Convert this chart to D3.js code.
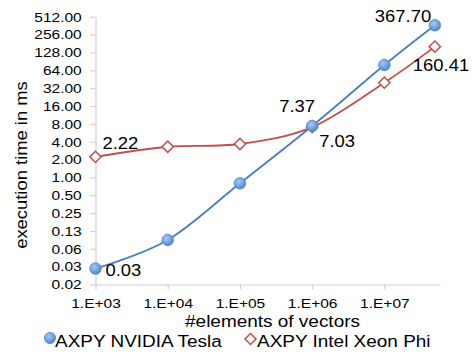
<!DOCTYPE html>
<html>
<head>
<meta charset="utf-8">
<script src="https://cdn.jsdelivr.net/npm/d3@7"></script>
<style>
  html, body { margin: 0; padding: 0; background: #fff; }
  svg { display: block; }
  text { font-family: "Liberation Sans", Arial, sans-serif; fill: #000; }
</style>
</head>
<body>
<svg id="chart" width="474" height="355"></svg>
<script>
// ---- data ----
const xValues = [1e3, 1e4, 1e5, 1e6, 1e7, 5e7];
const nvidiaValues = [0.029, 0.088, 0.795, 7.37, 78.6, 367.70];
const xeonValues = [2.22, 3.29, 3.66, 7.03, 39.6, 160.41];
const nvidiaLabels = ["0.03", null, null, "7.37", null, "367.70"];
const xeonLabels = ["2.22", null, null, "7.03", null, "160.41"];
const seriesNames = ["AXPY NVIDIA Tesla", "AXPY Intel Xeon Phi"];
const yTickValues = [1/64, 1/32, 1/16, 1/8, 1/4, 1/2, 1, 2, 4, 8, 16, 32, 64, 128, 256, 512];
const yTickLabels = ["0.02", "0.03", "0.06", "0.13", "0.25", "0.50", "1.00", "2.00", "4.00", "8.00", "16.00", "32.00", "64.00", "128.00", "256.00", "512.00"];
const xTickValues = [1e3, 1e4, 1e5, 1e6, 1e7];
const xTickLabels = ["1.E+03", "1.E+04", "1.E+05", "1.E+06", "1.E+07"];
const xTitle = "#elements of vectors";
const yTitle = "execution time in ms";

// ---- layout ----
const STRETCH = 1.15;
const blue = "#4a7ebb", red = "#c0504d", axisColor = "#d0d0d0";
const svg = d3.select("#chart");

const x = d3.scaleLog().domain([1e3, Math.pow(10, 7.77)]).range([95.5, 440]);
const y = d3.scaleLog().base(2).domain([1/64, 512]).range([284.5, 16.75]);

const defs = svg.append("defs");
const grad = defs.append("radialGradient").attr("id", "blueGrad")
  .attr("cx", "40%").attr("cy", "35%").attr("r", "70%");
grad.append("stop").attr("offset", "0%").attr("stop-color", "#a9c8ee");
grad.append("stop").attr("offset", "60%").attr("stop-color", "#6c9ee0");
grad.append("stop").attr("offset", "100%").attr("stop-color", "#4a7ebb");

// axes
const yAxis = svg.append("g").attr("transform", "translate(95.5,0)")
  .call(d3.axisLeft(y).tickValues(yTickValues).tickFormat((d, i) => yTickLabels[i])
    .tickSize(5).tickSizeOuter(0).tickPadding(7));
const xAxis = svg.append("g").attr("transform", "translate(0,284.5)")
  .call(d3.axisBottom(x).tickValues(xTickValues).tickFormat((d, i) => xTickLabels[i])
    .tickSize(5).tickSizeOuter(0).tickPadding(9));
[yAxis, xAxis].forEach(g => {
  g.select(".domain").attr("stroke", axisColor).attr("stroke-width", 1.2);
  g.selectAll(".tick line").attr("stroke", axisColor).attr("stroke-width", 1.2);
  g.selectAll("text").attr("font-size", 13.5).attr("fill", "#000")
    .attr("font-family", "Liberation Sans, Arial, sans-serif")
    .attr("transform", `scale(${STRETCH},1)`);
});
xAxis.selectAll("text").attr("x", 0);

// lines
const line = d3.line().x(d => x(d[0])).y(d => y(d[1])).curve(d3.curveCatmullRom.alpha(0));
const nvData = xValues.map((v, i) => [v, nvidiaValues[i]]);
const xeData = xValues.map((v, i) => [v, xeonValues[i]]);
svg.append("path").datum(xeData).attr("d", line).attr("fill", "none")
  .attr("stroke", red).attr("stroke-width", 1.8);
svg.append("path").datum(nvData).attr("d", line).attr("fill", "none")
  .attr("stroke", blue).attr("stroke-width", 1.8);

// markers
const diamond = (s) => `M0,${-s}L${s},0L0,${s}L${-s},0Z`;
svg.append("g").selectAll("path").data(xeData).join("path")
  .attr("transform", d => `translate(${x(d[0])},${y(d[1])})`)
  .attr("d", diamond(5.6)).attr("fill", "#fff").attr("stroke", red).attr("stroke-width", 1.5);
svg.append("g").selectAll("circle").data(nvData).join("circle")
  .attr("cx", d => x(d[0])).attr("cy", d => y(d[1])).attr("r", 5.8)
  .attr("fill", "url(#blueGrad)").attr("stroke", "#5a8ac6").attr("stroke-width", 0.8);

// data labels (offsets relative to point)
function stretchedText(px, py, str, size, anchor) {
  svg.append("text")
    .attr("transform", `translate(${px},${py}) scale(${STRETCH},1)`)
    .attr("text-anchor", anchor || "start")
    .attr("font-size", size).text(str);
}
const nvOffsets = [[10, 7, "start"], null, null, [-33, -14, "start"], null, [-60, -3, "start"]];
const xeOffsets = [[7, -8, "start"], null, null, [7, 20, "start"], null, [-22, 24, "start"]];
nvData.forEach((d, i) => {
  if (nvidiaLabels[i]) stretchedText(x(d[0]) + nvOffsets[i][0], y(d[1]) + nvOffsets[i][1], nvidiaLabels[i], 16, nvOffsets[i][2]);
});
xeData.forEach((d, i) => {
  if (xeonLabels[i]) stretchedText(x(d[0]) + xeOffsets[i][0], y(d[1]) + xeOffsets[i][1], xeonLabels[i], 16, xeOffsets[i][2]);
});

// axis titles
stretchedText(272.5, 327, xTitle, 16.5, "middle");
svg.append("text")
  .attr("transform", `translate(27,165) rotate(-90) scale(${STRETCH},1)`)
  .attr("text-anchor", "middle").attr("font-size", 16).text(yTitle);

// legend
svg.append("circle").attr("cx", 50).attr("cy", 338).attr("r", 5.6)
  .attr("fill", "url(#blueGrad)").attr("stroke", "#5a8ac6").attr("stroke-width", 0.8);
stretchedText(55, 347, seriesNames[0], 16.5, "start");
svg.append("path").attr("transform", "translate(250.5,339)").attr("d", diamond(5.5))
  .attr("fill", "#fff").attr("stroke", red).attr("stroke-width", 1.5);
stretchedText(257, 347, seriesNames[1], 16.5, "start");
</script>
</body>
</html>
